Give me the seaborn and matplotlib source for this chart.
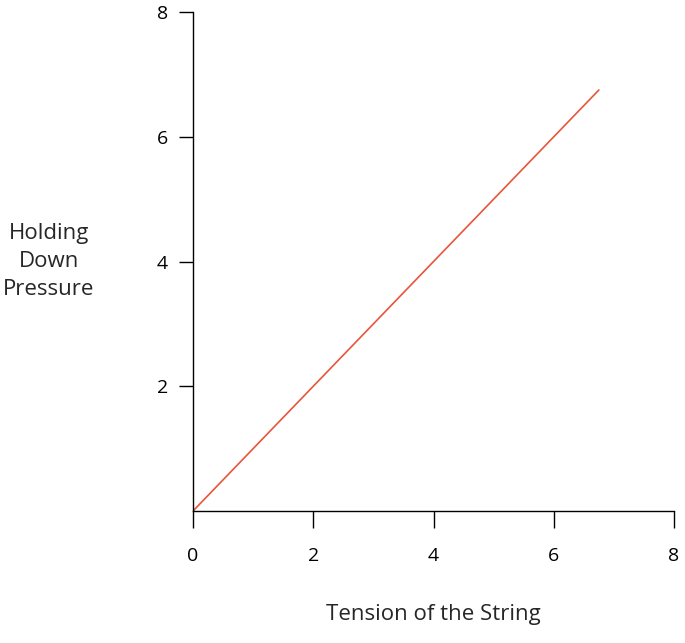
import matplotlib
matplotlib.use("Agg")
import matplotlib.pyplot as plt
import seaborn as sns
import pandas as pd

tension = [0, 6.75]
pressure = [0, 6.75]
xticks = [0, 2, 4, 6, 8]
yticks = [2, 4, 6, 8]

sns.set_style("white")
plt.rcParams['font.family'] = ['Open Sans', 'DejaVu Sans']

fig = plt.figure(figsize=(6.85, 6.43), dpi=100)
ax = fig.add_axes([0.2818, 0.2053, 0.7022, 0.776])
df = pd.DataFrame({"t": tension, "p": pressure})
sns.lineplot(data=df, x="t", y="p", ax=ax, color="#e8553a", linewidth=1.2)
ax.set_xlim(0, 8)
ax.set_ylim(0, 8)
ax.set_xticks(xticks)
ax.set_yticks(yticks)
ax.tick_params(axis='x', bottom=True, length=12, width=1, pad=14, labelsize=14, colors='black')
ax.tick_params(axis='y', left=True, length=10, width=1, pad=8, labelsize=14, colors='black')
for s in ['top', 'right']:
    ax.spines[s].set_visible(False)
for s in ['left', 'bottom']:
    ax.spines[s].set_color('black')
    ax.spines[s].set_linewidth(1)
ax.set_xlabel("Tension of the String", fontsize=16, labelpad=28)
ax.set_ylabel("Holding\nDown\nPressure", fontsize=16, rotation=0, ha='center', va='center',
              linespacing=1.45)
ax.yaxis.set_label_coords(-0.30, 0.5)
fig.savefig("out.png", dpi=100)
